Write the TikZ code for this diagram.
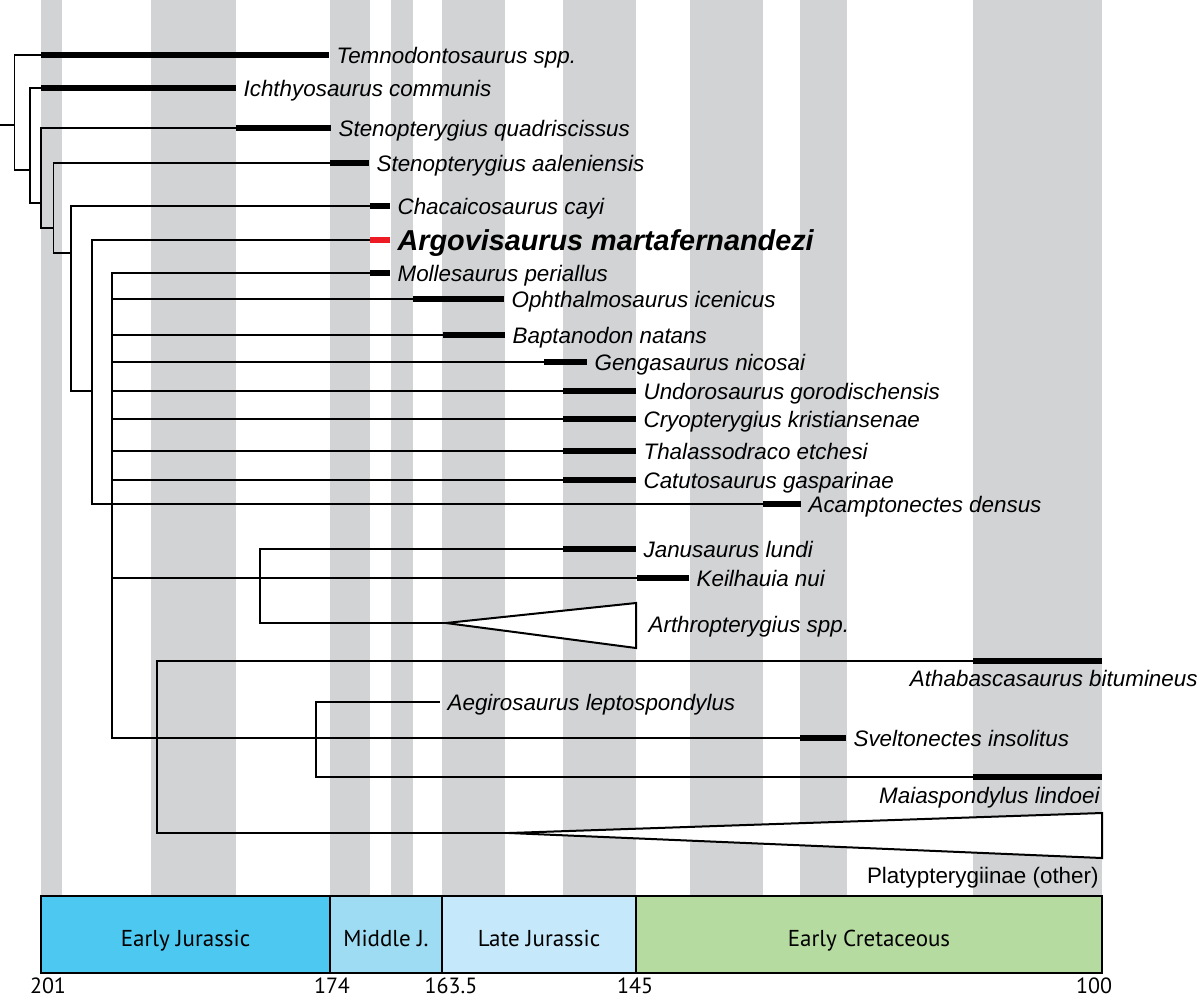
\documentclass[tikz,border=0pt]{standalone}
\usepackage{fontspec}
\setmainfont{Liberation Sans}
\newfontfamily\periodfont{PT Sans}
\usepackage{xcolor}
\definecolor{bandgray}{RGB}{209,211,212}
\definecolor{earlyjur}{RGB}{77,201,241}
\definecolor{midjur}{RGB}{158,220,244}
\definecolor{latejur}{RGB}{197,232,250}
\definecolor{earlycret}{RGB}{181,219,161}
\definecolor{argored}{RGB}{237,28,36}

\begin{document}
\begin{tikzpicture}[x=0.5pt, y=-0.5pt,
  branch/.style = {line width=0.75pt},
  stratbar/.style = {line width=2.8pt},
  clade/.style = {line width=1pt, fill=white},
  taxon/.style = {anchor=west, inner xsep=3.6pt, inner ysep=0pt, text height=8pt, text depth=0pt, font=\fontsize{11.2}{13}\selectfont\itshape},
  group/.style = {anchor=east, inner sep=0pt, text height=8pt, text depth=0pt, font=\fontsize{11.2}{13}\selectfont},
  period/.style = {inner sep=0pt, text height=7.7pt, text depth=0pt, font=\periodfont\fontsize{11.5}{13}\selectfont},
  age/.style = {inner sep=0pt, text height=7.3pt, text depth=0pt, font=\periodfont\fontsize{11}{13}\selectfont}]
  \useasboundingbox (0,0) rectangle (1200,998);
  % stage bands
  \foreach \a/\b in {41/62, 151/236, 330/370, 391/413, 442/505, 563/636, 690/763, 800/847, 973/1102}
    \fill[bandgray] (\a,0) rectangle (\b,896);
  % taxa
  \node[taxon] (temno) at (329,55) {Temnodontosaurus spp.};
  \node[taxon] (ichthyo) at (236,88) {Ichthyosaurus communis};
  \node[taxon] (stenoq) at (331,128) {Stenopterygius quadriscissus};
  \node[taxon] (stenoa) at (369,163) {Stenopterygius aaleniensis};
  \node[taxon] (chacai) at (390,206) {Chacaicosaurus cayi};
  \node[taxon, text height=10.3pt, font=\fontsize{14.4}{16}\selectfont\bfseries\itshape] (argo) at (390,240) {Argovisaurus martafernandezi};
  \node[taxon] (molle) at (390,273) {Mollesaurus periallus};
  \node[taxon] (ophth) at (504,299) {Ophthalmosaurus icenicus};
  \node[taxon] (bapt) at (505,335) {Baptanodon natans};
  \node[taxon] (geng) at (587,362) {Gengasaurus nicosai};
  \node[taxon] (undoro) at (636,391) {Undorosaurus gorodischensis};
  \node[taxon] (cryo) at (636,419) {Cryopterygius kristiansenae};
  \node[taxon] (thal) at (636,451) {Thalassodraco etchesi};
  \node[taxon] (catu) at (636,480) {Catutosaurus gasparinae};
  \node[taxon] (acampto) at (801,504) {Acamptonectes densus};
  \node[taxon] (janus) at (636,549) {Janusaurus lundi};
  \node[taxon] (keil) at (689,578) {Keilhauia nui};
  \node[taxon] (arthro) at (641,624) {Arthropterygius spp.};
  \node[taxon, anchor=east, inner xsep=0pt] (athab) at (1198,678) {Athabascasaurus bitumineus};
  \node[taxon] (aegiro) at (440,702) {Aegirosaurus leptospondylus};
  \node[taxon] (svelt) at (846,738) {Sveltonectes insolitus};
  \node[taxon, anchor=east, inner xsep=0pt] (maia) at (1100,795) {Maiaspondylus lindoei};
  \node[group] (platy) at (1099,875) {Platypterygiinae (other)};
  % internal nodes
  \coordinate (root) at (0,125);
  \coordinate (n1) at (14.5,125);
  \coordinate (n2) at (30,170);
  \coordinate (n3) at (41,203);
  \coordinate (n4) at (53.6,228);
  \coordinate (n5) at (71,253);
  \coordinate (n6) at (92,391);
  \coordinate (n7) at (112,504);
  \coordinate (n8) at (260,578);
  \coordinate (n9) at (157,738);
  \coordinate (n10) at (316,738);
  \coordinate (arthro-tip) at (446,623);
  \coordinate (platy-tip) at (509,833);
  \coordinate (athab-end) at (1102,661);
  \coordinate (maia-end) at (1102,777);
  % branches
  \draw[branch] (root) -- (n1);
  \draw[branch] (n1) |- (temno.west);
  \draw[branch] (n1) |- (n2);
  \draw[branch] (n2) |- (ichthyo.west);
  \draw[branch] (n2) |- (n3);
  \draw[branch] (n3) |- (stenoq.west);
  \draw[branch] (n3) |- (n4);
  \draw[branch] (n4) |- (stenoa.west);
  \draw[branch] (n4) |- (n5);
  \draw[branch] (n5) |- (chacai.west);
  \draw[branch] (n5) |- (n6);
  \draw[branch] (n6) |- (argo.west);
  \draw[branch] (n6) |- (n7);
  \draw[branch] (n7) -- (acampto.west);
  \foreach \t in {molle, ophth, bapt, geng, undoro, cryo, thal, catu}
    \draw[branch] (n7) |- (\t.west);
  \draw[branch] (n7) |- (n8);
  \draw[branch] (n8) -- (keil.west);
  \draw[branch] (n8) |- (janus.west);
  \draw[branch] (n8) |- (arthro-tip);
  \draw[branch] (n7) |- (n9);
  \draw[branch] (n9) |- (athab-end);
  \draw[branch] (n9) |- (platy-tip);
  \draw[branch] (n9) -- (n10);
  \draw[branch] (n10) -- (svelt.west);
  \draw[branch] (n10) |- (aegiro.west);
  \draw[branch] (n10) |- (maia-end);
  % collapsed clades
  \draw[clade] (arthro-tip) -- (636,603) -- (636,648) -- cycle;
  \draw[clade] (platy-tip) -- (1102,813) -- (1102,858) -- cycle;
  % stratigraphic ranges
  \draw[stratbar] (41,0 |- temno.west) -- (temno.west);
  \draw[stratbar] (41,0 |- ichthyo.west) -- (ichthyo.west);
  \draw[stratbar] (236,0 |- stenoq.west) -- (stenoq.west);
  \draw[stratbar] (330,0 |- stenoa.west) -- (stenoa.west);
  \draw[stratbar] (370,0 |- chacai.west) -- (chacai.west);
  \draw[stratbar, argored] (370,0 |- argo.west) -- (argo.west);
  \draw[stratbar] (370,0 |- molle.west) -- (molle.west);
  \draw[stratbar] (413,0 |- ophth.west) -- (ophth.west);
  \draw[stratbar] (443,0 |- bapt.west) -- (bapt.west);
  \draw[stratbar] (544,0 |- geng.west) -- (geng.west);
  \foreach \t in {undoro, cryo, thal, catu, janus}
    \draw[stratbar] (563,0 |- \t.west) -- (\t.west);
  \draw[stratbar] (763,0 |- acampto.west) -- (acampto.west);
  \draw[stratbar] (637,0 |- keil.west) -- (keil.west);
  \draw[stratbar] (800,0 |- svelt.west) -- (svelt.west);
  \draw[stratbar] (973,0 |- athab-end) -- (athab-end);
  \draw[stratbar] (973,0 |- maia-end) -- (maia-end);
  % time scale
  \foreach \a/\b/\c/\t in {41/330/earlyjur/Early Jurassic, 330/442/midjur/Middle J., 442/636/latejur/Late Jurassic, 636/1102/earlycret/Early Cretaceous} {
    \draw[fill=\c, line width=0.7pt] (\a,896) rectangle (\b,973);
    \node[period] (per-\a) at ({(\a+\b)/2},939) {\t};
  }
  \draw[line width=1pt] (41,896) rectangle (1102,973);
  \foreach \x/\t in {48/201, 332/174, 451/163.5, 635/145, 1094/100}
    \node[age] (age-\x) at (\x,986) {\t};
\end{tikzpicture}
\end{document}
